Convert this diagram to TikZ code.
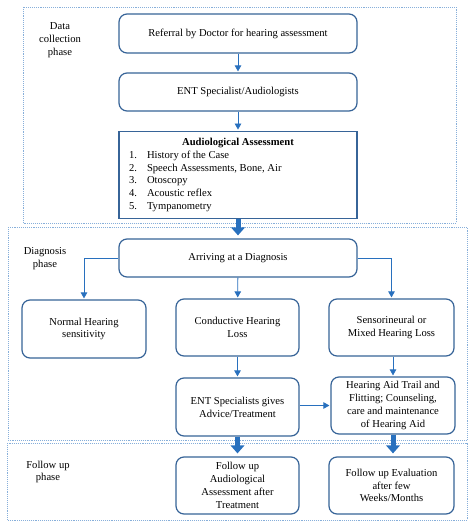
\documentclass[tikz,border=0pt]{standalone}
\usepackage{fontspec}
\setmainfont{Liberation Serif}
\usetikzlibrary{arrows.meta}
\definecolor{boxc}{RGB}{55,100,152}
\definecolor{arrc}{RGB}{40,112,190}
\definecolor{dashc}{RGB}{135,175,218}
\tikzset{
  rbox/.style={draw=boxc, line width=1.2pt, rounded corners=8pt, align=center,
    font=\fontsize{10.6}{12.8}\selectfont, inner sep=2pt},
  sqbox/.style={draw=boxc, line width=1.2pt, font=\fontsize{10.6}{12.8}\selectfont},
  phasebox/.style={draw=dashc, densely dotted, line width=0.9pt},
  phaselabel/.style={align=center, font=\fontsize{10.6}{12.8}\selectfont},
  thinarrow/.style={draw=arrc, line width=0.8pt, -{Triangle[length=6pt,width=6.5pt]}, shorten >=1pt},
  thickarrow/.style={draw=arrc, line width=5pt, -{Triangle[length=8pt,width=13.5pt]}, shorten >=3pt}
}
\begin{document}
\begin{tikzpicture}[x=1pt,y=-1pt]
\useasboundingbox (0,0) rectangle (474,527);
\fill[white] (0,0) rectangle (474,527);
% phase frames
\draw[phasebox] (23,7) rectangle (456,223);
\draw[phasebox] (8,227) rectangle (467,440);
\draw[phasebox] (7,443) rectangle (467,520);
% phase labels
\node[phaselabel] (lab1) at (60,40) {Data\\collection\\phase};
\node[phaselabel] (lab2) at (45,258.5) {Diagnosis\\phase};
\node[phaselabel] (lab3) at (48,472) {Follow up\\phase};
% boxes
\node[rbox, minimum width=238pt, minimum height=39pt] (ref) at (238,33.5) {Referral by Doctor for hearing assessment};
\node[sqbox, minimum width=238pt, minimum height=86pt, inner sep=7pt, align=left] (aud) at (238,175)
  {\makebox[224pt]{\textbf{Audiological Assessment}}\\
   \hspace*{3pt}\makebox[18pt][l]{1.}History of the Case\\
   \hspace*{3pt}\makebox[18pt][l]{2.}Speech Assessments, Bone, Air\\
   \hspace*{3pt}\makebox[18pt][l]{3.}Otoscopy\\
   \hspace*{3pt}\makebox[18pt][l]{4.}Acoustic reflex\\
   \hspace*{3pt}\makebox[18pt][l]{5.}Tympanometry};
\node[rbox, minimum width=238pt, minimum height=38pt] (ent) at (238,92) {ENT Specialist/Audiologists};
\node[rbox, minimum width=238pt, minimum height=38pt] (arr) at (238,258) {Arriving at a Diagnosis};
\node[rbox, minimum width=124pt, minimum height=58pt] (normal) at (84,329) {Normal Hearing\\sensitivity};
\node[rbox, minimum width=123pt, minimum height=57pt] (cond) at (237.5,327.5) {Conductive Hearing\\Loss};
\node[rbox, minimum width=125pt, minimum height=57pt] (sens) at (391.5,327.5) {Sensorineural or\\Mixed Hearing Loss};
\node[rbox, minimum width=123pt, minimum height=58pt] (entadv) at (237.5,407) {ENT Specialists gives\\Advice/Treatment};
\node[rbox, minimum width=124pt, minimum height=57pt] (aid) at (393,405.5) {Hearing Aid Trail and\\Flitting; Counseling,\\care and maintenance\\of Hearing Aid};
\node[rbox, minimum width=123pt, minimum height=57pt] (fua) at (237.5,485.5) {Follow up\\Audiological\\Assessment after\\Treatment};
\node[rbox, minimum width=125pt, minimum height=57pt] (fue) at (391.5,485.5) {Follow up Evaluation\\after few\\Weeks/Months};
% connectors
\draw[thinarrow] (ref) -- (ent);
\draw[thinarrow] (ent) -- (aud);
\draw[thickarrow] (aud) -- (arr);
\draw[thinarrow] (arr.west) -| (normal.north);
\draw[thinarrow] (arr) -- (cond);
\draw[thinarrow] (arr.east) -| (sens.north);
\draw[thinarrow] (cond) -- (entadv);
\draw[thinarrow] (aid.north |- sens.south) -- (aid.north);
\draw[thinarrow] (entadv.east |- aid.west) -- (aid.west);
\draw[thickarrow] (entadv) -- (fua);
\draw[thickarrow] (aid.south) -- (aid.south |- fue.north);
\end{tikzpicture}
\end{document}
